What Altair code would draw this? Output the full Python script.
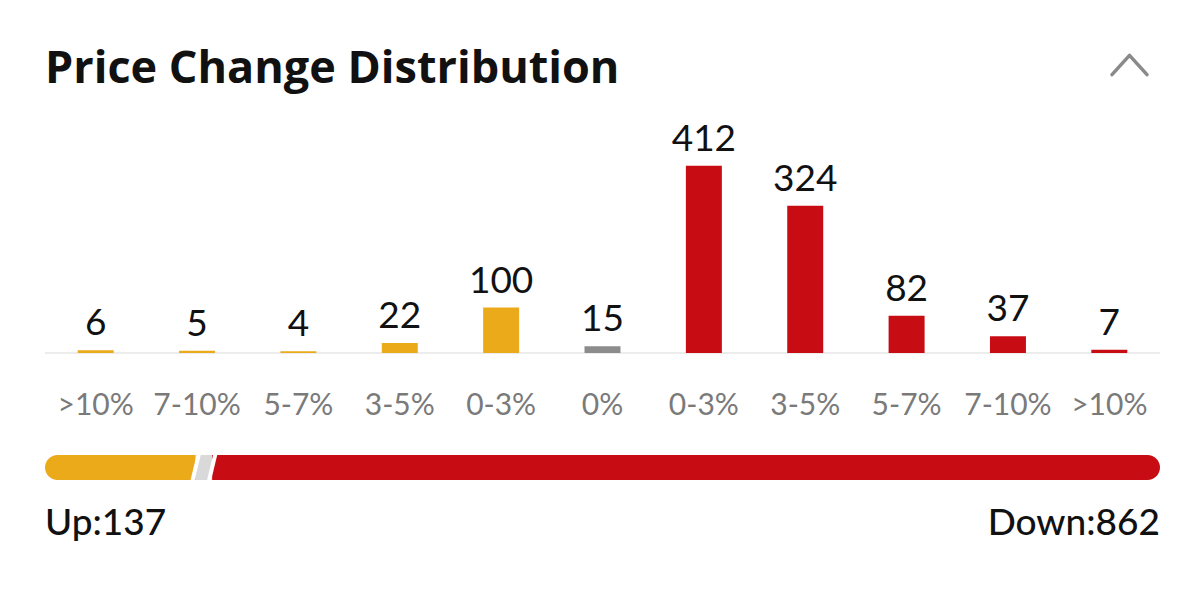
import altair as alt
import pandas as pd

# Price-change buckets, from the largest rise on the left to the largest fall on the right
bucket_labels = [">10%", "7-10%", "5-7%", "3-5%", "0-3%", "0%", "0-3%", "3-5%", "5-7%", "7-10%", ">10%"]
bucket_counts = [6, 5, 4, 22, 100, 15, 412, 324, 82, 37, 7]
bucket_side = ["up"] * 5 + ["flat"] + ["down"] * 5

side_names = ["up", "flat", "down"]
side_colors = ["#EBAA1A", "#8C8C8C", "#C70C14"]
bar_track_colors = ["#EBAA1A", "#D9D9D9", "#C70C14"]

TITLE = "Price Change Distribution"
FONT = "Lato"
TITLE_FONT = "Open Sans"

W = 1115   # plot width
H = 450    # plot height

buckets = pd.DataFrame({
    "key": [f"b{i:02d}" for i in range(len(bucket_labels))],
    "label": bucket_labels,
    "count": bucket_counts,
    "side": bucket_side,
})

# totals per side for the summary bar
totals = {s: int(buckets.loc[buckets.side == s, "count"].sum()) for s in side_names}
segments = pd.DataFrame({
    "side": side_names,
    "count": [totals[s] for s in side_names],
})
segments["end"] = segments["count"].cumsum()
segments["start"] = segments["end"] - segments["count"]
grand_total = int(segments["count"].sum())
boundaries = pd.DataFrame({"pos": segments["end"].iloc[:-1].tolist()})

y_scale = alt.Scale(domain=[0, 535], range=[243, 0], nice=False)
x_band = alt.X("key:N", sort=None, axis=None,
               scale=alt.Scale(paddingInner=0.645, paddingOuter=0.3225))
y_val = alt.Y("count:Q", axis=None, scale=y_scale)
color = alt.Color("side:N", legend=None,
                  scale=alt.Scale(domain=side_names, range=side_colors))

base = alt.Chart(buckets)

baseline = alt.Chart(pd.DataFrame({"zero": [0]})).mark_rule(
    color="#E6E6E6", strokeWidth=1.5
).encode(
    y=alt.Y("zero:Q", scale=y_scale, axis=None),
    x=alt.value(0), x2=alt.value(W),
)

bars = base.mark_bar().encode(x=x_band, y=y_val, color=color)

value_text = base.mark_text(
    font=FONT, fontSize=37, color="#111111", baseline="alphabetic", dy=-15
).encode(x=x_band, y=y_val, text="count:Q")

cat_text = base.mark_text(
    font=FONT, fontSize=30, color="#7A7A7A", baseline="alphabetic", dy=62
).encode(x=x_band, y=alt.datum(0), text="label:N")

bucket_layer = alt.layer(baseline, bars, value_text, cat_text)

# summary bar: up / flat / down shares
x_lin_scale = alt.Scale(domain=[0, grand_total], nice=False, zero=True)
x_lin = alt.X("start:Q", axis=None, scale=x_lin_scale)
seg_base = alt.Chart(segments)
seg_enc = dict(x=x_lin, x2="end:Q", y=alt.value(345), y2=alt.value(370),
               color=alt.Color("side:N", legend=None,
                               scale=alt.Scale(domain=side_names, range=bar_track_colors)))

seg_up = seg_base.transform_filter(alt.datum.side == "up").mark_bar(
    cornerRadiusTopLeft=12.5, cornerRadiusBottomLeft=12.5).encode(**seg_enc)
seg_flat = seg_base.transform_filter(alt.datum.side == "flat").mark_bar().encode(**seg_enc)
seg_down = seg_base.transform_filter(alt.datum.side == "down").mark_bar(
    cornerRadiusTopRight=12.5, cornerRadiusBottomRight=12.5).encode(**seg_enc)

separators = alt.Chart(boundaries).mark_rule(
    color="white", strokeWidth=4, xOffset=-3.5, x2Offset=3.5
).encode(
    x=alt.X("pos:Q", axis=None, scale=x_lin_scale),
    x2="pos:Q", y=alt.value(372), y2=alt.value(343),
)

summary = pd.DataFrame({
    "text": [f"Up:{totals['up']}", f"Down:{totals['down']}"],
})
up_text = alt.Chart(summary.iloc[[0]]).mark_text(
    font=FONT, fontSize=37, fontWeight=500, color="#111111",
    align="left", baseline="alphabetic"
).encode(x=alt.value(0), y=alt.value(425), text="text:N")
down_text = alt.Chart(summary.iloc[[1]]).mark_text(
    font=FONT, fontSize=37, fontWeight=500, color="#111111",
    align="right", baseline="alphabetic"
).encode(x=alt.value(W), y=alt.value(425), text="text:N")

header = pd.DataFrame({"title": [TITLE]})
title_text = alt.Chart(header).mark_text(
    font=TITLE_FONT, fontSize=45, fontWeight=700, color="#111111",
    align="left", baseline="alphabetic"
).encode(x=alt.value(0), y=alt.value(-27), text="title:N")

chevron = alt.Chart(header).mark_point(
    shape="M -1 0.55 L 0 -0.55 L 1 0.55", filled=False, size=1225,
    stroke="#8A8A8A", strokeWidth=3.5, strokeCap="round", strokeJoin="round", opacity=1
).encode(x=alt.value(1084.5), y=alt.value(-45))

summary_layer = alt.layer(seg_up, seg_flat, seg_down, separators,
                          up_text, down_text, title_text, chevron)

chart = alt.layer(bucket_layer, summary_layer).resolve_scale(
    x="independent", y="independent", color="independent"
).properties(
    width=W, height=H,
    autosize=alt.AutoSizeParams(type="none"),
    padding={"left": 45, "top": 110, "right": 40, "bottom": 29},
    background="white",
).configure_view(stroke=None)

chart.save("out.html", embed_options={"renderer": "svg", "actions": False})
